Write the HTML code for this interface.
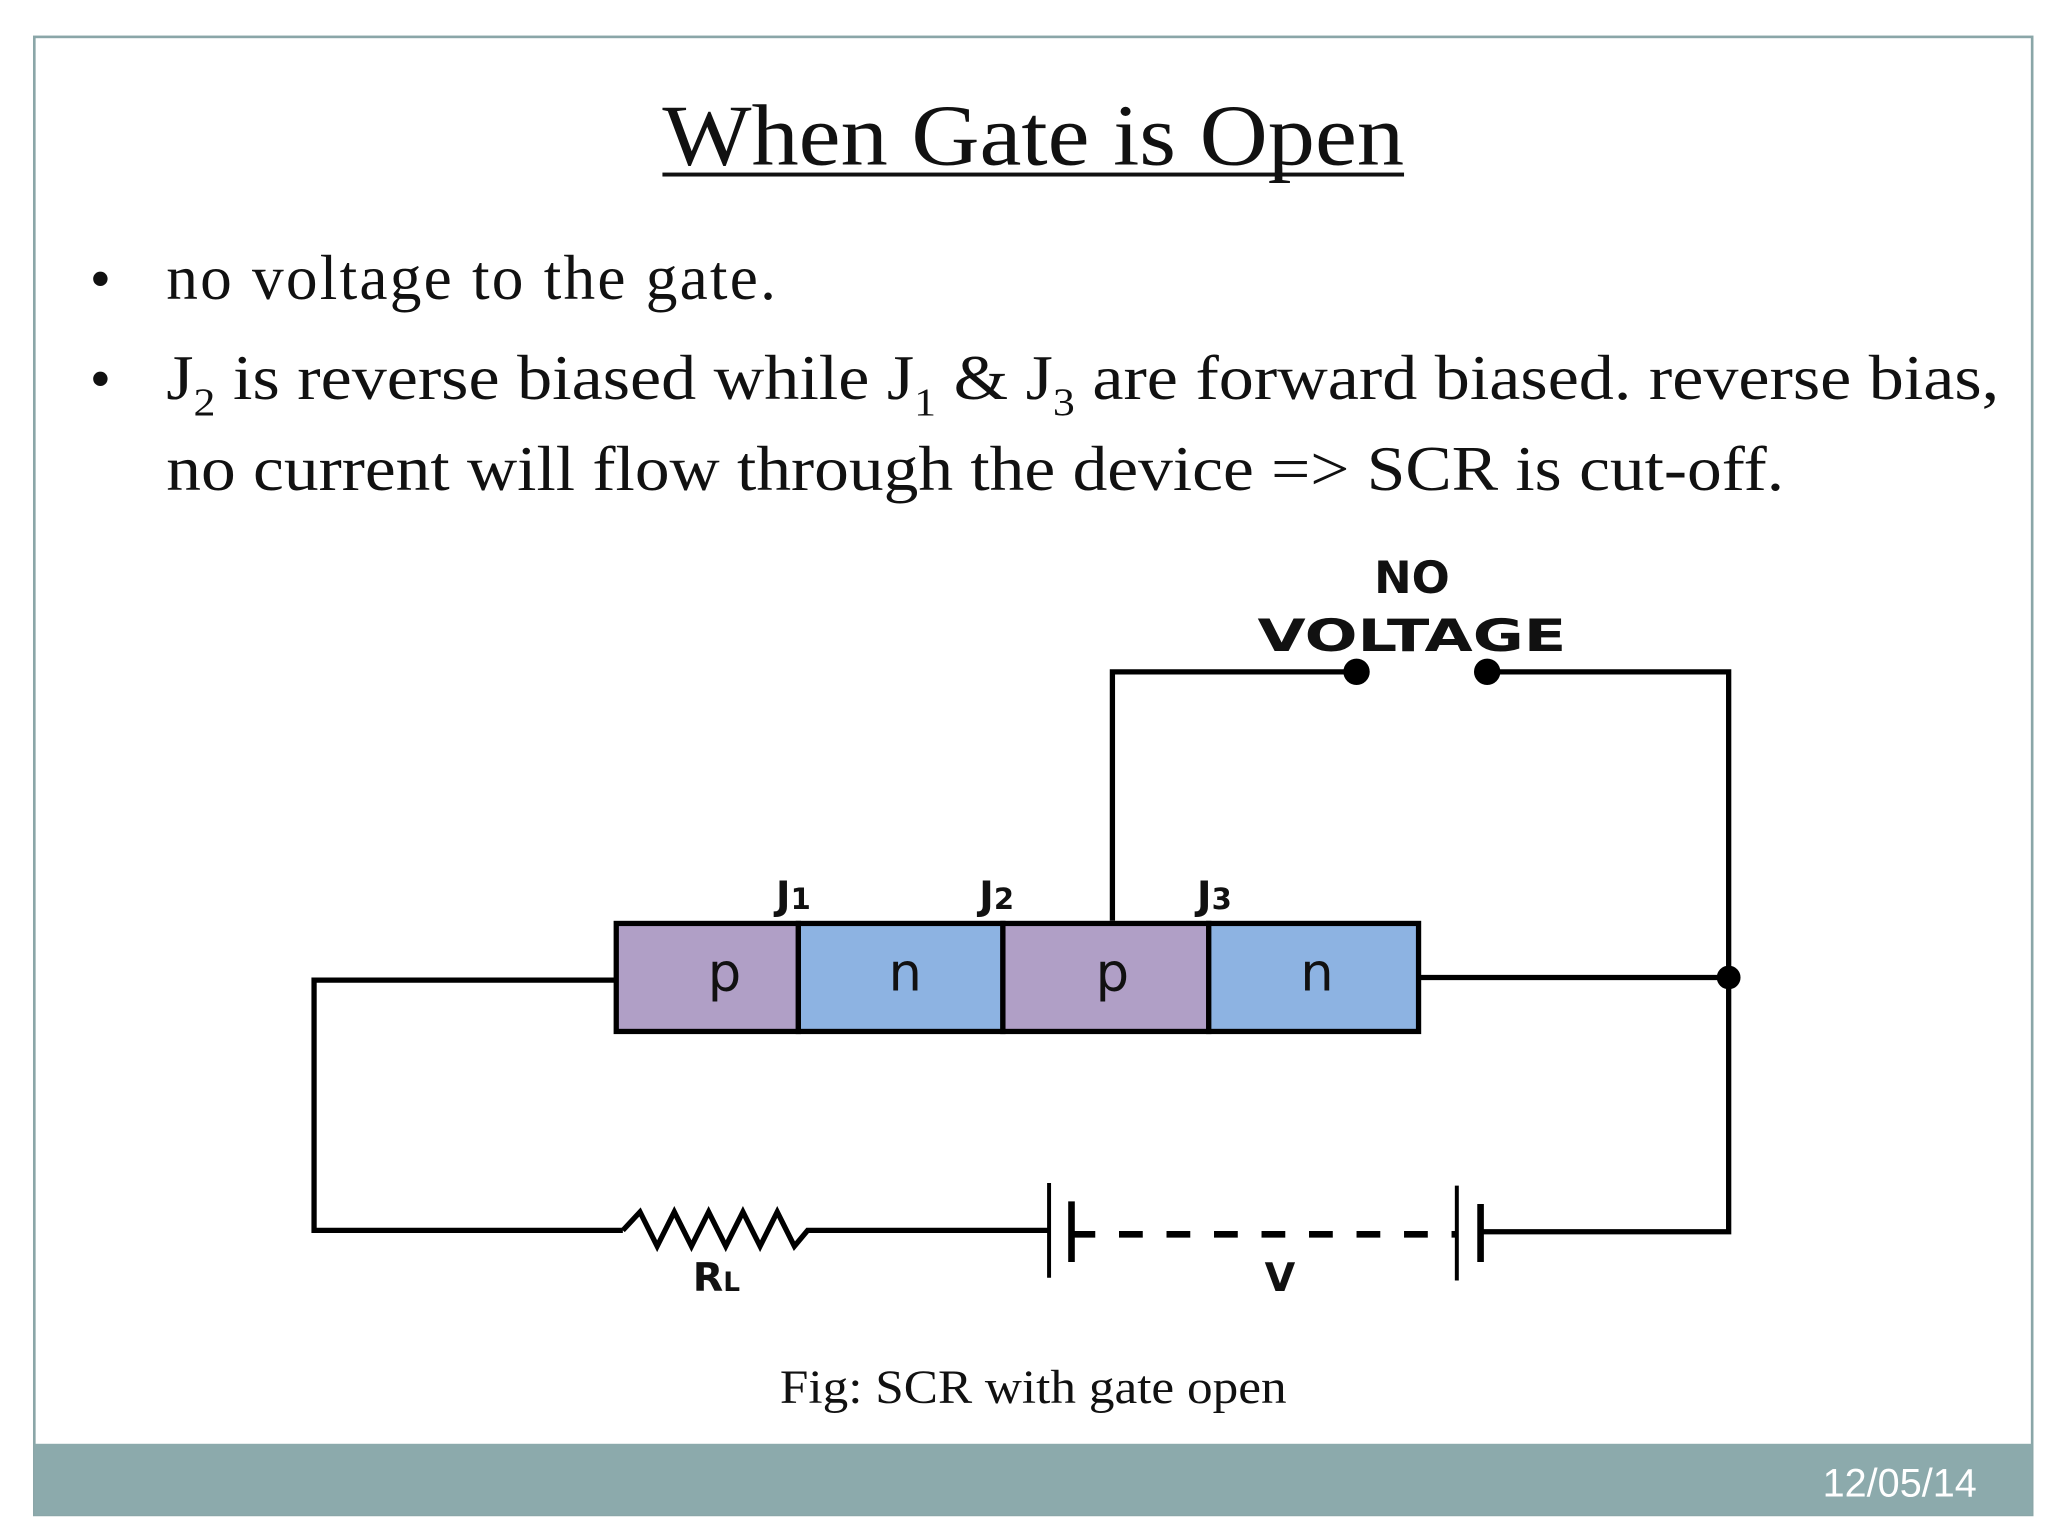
<!DOCTYPE html>
<html><head><meta charset="utf-8"><style>html,body{margin:0;padding:0;background:#fff}svg{display:block}</style></head>
<body>
<svg width="2048" height="1536" viewBox="0 0 1552 1166" preserveAspectRatio="none" xmlns="http://www.w3.org/2000/svg">
<rect x="26" y="28" width="1514" height="1122" fill="#fff" stroke="#8aa6a8" stroke-width="2"/>
<rect x="26" y="1096" width="1514" height="54" fill="#8caaac"/>
<text x="1498" y="1136" text-anchor="end" font-family="Liberation Sans, sans-serif" font-size="30" fill="#fff">12/05/14</text>
<g font-family="Liberation Serif, serif" fill="#111">
<text x="783" y="125" text-anchor="middle" font-size="66" textLength="562" lengthAdjust="spacingAndGlyphs">When Gate is Open</text>
<rect x="502" y="131" width="562" height="3" fill="#111"/>
<text x="68" y="227" font-size="46">•</text>
<text x="126" y="227" font-size="48" textLength="462" lengthAdjust="spacing">no voltage to the gate.</text>
<text x="68" y="303" font-size="46">•</text>
<text x="126" y="303" font-size="48" textLength="1389" lengthAdjust="spacingAndGlyphs">J<tspan font-size="30" dy="12">2</tspan><tspan dy="-12"> is reverse biased while J</tspan><tspan font-size="30" dy="12">1</tspan><tspan dy="-12"> &amp; J</tspan><tspan font-size="30" dy="12">3</tspan><tspan dy="-12"> are  forward biased. reverse bias,</tspan></text>
<text x="126" y="372" font-size="48" textLength="1226" lengthAdjust="spacingAndGlyphs">no current will flow through the  device =&gt; SCR is cut-off.</text>
<text x="783" y="1065" text-anchor="middle" font-size="36" textLength="384" lengthAdjust="spacingAndGlyphs">Fig: SCR with gate open</text>
</g>
<g stroke="#000" stroke-width="4" fill="none">
<polyline points="843,699 843,510 1028,510"/>
<polyline points="1127,510 1310,510 1310,935 1122,935"/>
<line x1="1075" y1="742" x2="1310" y2="742"/>
<polyline points="467,744 238,744 238,934 472,934"/>
<polyline points="472,934 485,920 498,946 511,920 524,946 537,920 550,946 563,920 576,946 589,920 602,946 612,934 795,934"/>
<line x1="795" y1="898" x2="795" y2="970" stroke-width="3"/>
<line x1="812" y1="912" x2="812" y2="958" stroke-width="5"/>
<line x1="1104" y1="900" x2="1104" y2="972" stroke-width="3"/>
<line x1="1122" y1="914" x2="1122" y2="958" stroke-width="5"/>
<line x1="812" y1="937" x2="1104" y2="937" stroke-dasharray="18,18" stroke-width="5"/>
</g>
<circle cx="1028" cy="510" r="10" fill="#000"/>
<circle cx="1127" cy="510" r="10" fill="#000"/>
<circle cx="1310" cy="742" r="9" fill="#000"/>
<g stroke="#000" stroke-width="4">
<rect x="467" y="701" width="138" height="82" fill="#b09fc6"/>
<rect x="605" y="701" width="155" height="82" fill="#8db3e2"/>
<rect x="760" y="701" width="156" height="82" fill="#b09fc6"/>
<rect x="916" y="701" width="159" height="82" fill="#8db3e2"/>
</g>
<g font-family="DejaVu Sans, sans-serif" fill="#111" text-anchor="middle" font-size="40">
<text x="549" y="752">p</text><text x="686" y="752">n</text><text x="843" y="752">p</text><text x="998" y="752">n</text>
</g>
<g font-family="DejaVu Sans, sans-serif" font-weight="bold" fill="#111" font-size="30">
<text x="588" y="690">J<tspan font-size="22">1</tspan></text>
<text x="742" y="690">J<tspan font-size="22">2</tspan></text>
<text x="907" y="690">J<tspan font-size="22">3</tspan></text>
<text x="1070" y="450" text-anchor="middle" font-size="34">NO</text>
<text x="1070" y="494" text-anchor="middle" font-size="34" textLength="234" lengthAdjust="spacingAndGlyphs">VOLTAGE</text>
<text x="525" y="980" font-size="30">R<tspan font-size="20">L</tspan></text>
<text x="970" y="980" text-anchor="middle" font-size="30">V</text>
</g>
</svg>
</body></html>
